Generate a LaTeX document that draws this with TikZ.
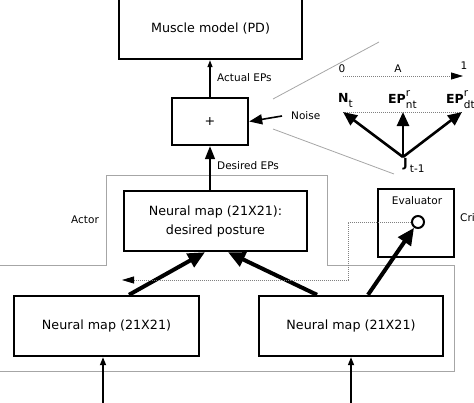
\documentclass[tikz,border=0pt]{standalone}
\usepackage{fontspec}
\setmainfont{DejaVu Sans}
\usetikzlibrary{arrows.meta}

\newcommand{\supsub}[2]{\makebox[0pt][l]{\raisebox{7pt}{\fontsize{10.5}{10.5}\mdseries #1}}\raisebox{-5pt}{\fontsize{10.5}{10.5}\mdseries #2}}
\newcommand{\subonly}[1]{\raisebox{-5pt}{\fontsize{10.5}{10.5}\mdseries #1}}

\tikzset{
	bigbox/.style = {draw = black, shape = rectangle, line width = 2.4pt,
					 align = center, inner sep = 0pt,
					 font = \fontsize{12.7}{19}\selectfont},
	smalltext/.style = {inner sep = 0pt, font = \fontsize{10.5}{12}\selectfont},
	insettext/.style = {inner sep = 0pt, font = \fontsize{12.5}{14}\selectfont\bfseries},
	dot/.style = {draw = black, shape = circle, line width = 2pt,
				  minimum size = 12pt, inner sep = 0pt},
	regionline/.style = {draw = gray!70, line width = 0.8pt},
	zoomline/.style = {draw = gray!70, line width = 0.8pt},
	dotline/.style = {draw = gray, line width = 0.8pt, dash pattern = on 1pt off 1pt},
	thinarrow/.style = {line width = 1.2pt, -{Triangle[length=7pt, width=5pt]}},
	inarrow/.style = {line width = 1.6pt, -{Triangle[length=8pt, width=6pt]}},
	midarrow/.style = {line width = 1.6pt, -{Triangle[length=13pt, width=10pt]}},
	fatarrow/.style = {line width = 4pt, -{Triangle[length=17pt, width=15pt]}},
	vecarrow/.style = {line width = 2.6pt, -{Triangle[length=14pt, width=12pt]}},
	dottip/.style = {-{Triangle[length = 12pt, width = 7pt, color = black]}}
}

\begin{document}
\begin{tikzpicture}[x = 1pt, y = -1pt]

	\useasboundingbox (0,0) rectangle (474,402);
	\clip (0,0) rectangle (474,402);

	% actor region
	\draw[regionline] (-5,265) -- (106,265) -- (106,175) -- (327,175)
			-- (327,265) -- (454,265) -- (454,371) -- (-5,371);

	\draw (210.5,28.5) node[bigbox,
					 minimum width = 183,
					 minimum height = 61] (muscle) {Muscle model (PD)};

	\draw (210,121.5) node[bigbox,
					 minimum width = 76,
					 minimum height = 47] (sum) {+};

	\draw (215.5,221) node[bigbox,
					 minimum width = 183,
					 minimum height = 60] (posture) {Neural map (21X21):\\desired posture};

	\draw (416,223) node[bigbox,
					 minimum width = 76,
					 minimum height = 68] (evalbox) {};
	\draw (417,201) node[smalltext] (evallabel) {Evaluator};
	\draw (418,222) node[dot] (dot) {};

	\draw (106.5,326) node[bigbox,
					 minimum width = 185,
					 minimum height = 60] (leftmap) {Neural map (21X21)};

	\draw (351,326) node[bigbox,
					 minimum width = 184,
					 minimum height = 60] (rightmap) {Neural map (21X21)};

	% labels
	\draw (85,220) node[smalltext] (actor) {Actor};
	\draw (460,218) node[smalltext, anchor = west] (critic) {Critic};
	\draw (217,78) node[smalltext, anchor = west] (actual) {Actual EPs};
	\draw (217,166) node[smalltext, anchor = west] (desired) {Desired EPs};
	\draw (291,116) node[smalltext, anchor = west] (noise) {Noise};

	% signal flow
	\draw[thinarrow] (sum.north) -- (sum.north |- muscle.south);
	\draw[midarrow] (posture.north -| sum.south) -- (sum.south);
	\draw[midarrow] ([xshift = -9]noise.west) -- (sum.east);

	\draw[fatarrow] ([xshift = 22.5]leftmap.north) -- ([xshift = -10.5]posture.south);
	\draw[fatarrow] ([xshift = -34]rightmap.north) -- ([xshift = 12.5]posture.south);
	\draw[fatarrow] ([xshift = 17]rightmap.north) -- (dot);

	\coordinate (inleft) at (103,410);
	\coordinate (inright) at (351,410);
	\draw[inarrow] (inleft) -- (inleft |- leftmap.south);
	\draw[inarrow] (inright) -- (rightmap.south);

	% critic feedback
	\coordinate (bend) at (348,280);
	\coordinate (back) at (122,280);
	\draw[dotline, dottip] (dot.west) -| (bend) -- (back);

	% zoom of the sum
	\draw[zoomline] (273,99) -- (379,42);
	\draw[zoomline] (273,129) -- (394,174);

	\coordinate (a0) at (343,76);
	\coordinate (a1) at (463,76);
	\draw[dotline, dottip] (a0) -- (a1);
	\draw (342,69) node[smalltext] (zero) {0};
	\draw (398,69) node[smalltext] (alabel) {A};
	\draw (464,66) node[smalltext] (one) {1};

	\coordinate (jt) at (403,157);
	\coordinate (nt) at (343,112);
	\coordinate (ep) at (403,112);
	\coordinate (dt) at (462,112);
	\draw[dotline] (nt) -- (dt);
	\draw[vecarrow] (jt) -- (nt);
	\draw[vecarrow] (jt) -- (ep);
	\draw[vecarrow] (jt) -- (dt);

	\draw (338,100) node[insettext, anchor = west] (nlabel) {N\subonly{t}};
	\draw (388,100) node[insettext, anchor = west] (eplabel) {EP\supsub{r}{nt}};
	\draw (446,100) node[insettext, anchor = west] (dtlabel) {EP\supsub{r}{dt}};
	\draw (403,165) node[insettext, anchor = west] (jlabel) {J\,\subonly{t-1}};

\end{tikzpicture}
\end{document}
